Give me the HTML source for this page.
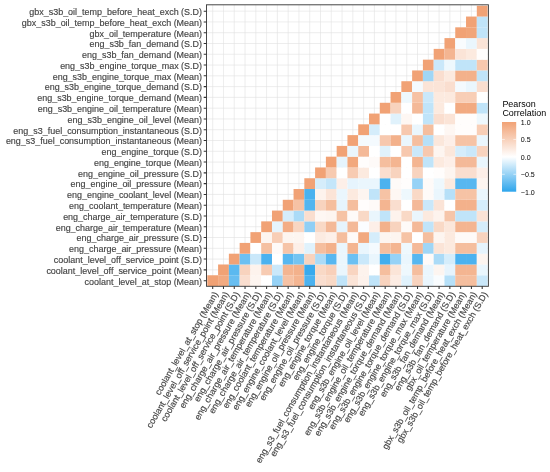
<!DOCTYPE html><html><head><meta charset="utf-8"><title>Pearson Correlation</title>
<style>html,body{margin:0;padding:0;background:#fff}svg{display:block}text{font-family:"Liberation Sans",sans-serif}</style></head><body>
<svg width="550" height="472" viewBox="0 0 550 472">
<rect width="550" height="472" fill="#fff"/>
<path d="M212.70 4.8V286.3M206.5 280.65H488.4M223.48 4.8V286.3M206.5 269.87H488.4M234.26 4.8V286.3M206.5 259.09H488.4M245.04 4.8V286.3M206.5 248.31H488.4M255.82 4.8V286.3M206.5 237.53H488.4M266.60 4.8V286.3M206.5 226.75H488.4M277.38 4.8V286.3M206.5 215.97H488.4M288.16 4.8V286.3M206.5 205.19H488.4M298.94 4.8V286.3M206.5 194.41H488.4M309.72 4.8V286.3M206.5 183.63H488.4M320.50 4.8V286.3M206.5 172.85H488.4M331.28 4.8V286.3M206.5 162.07H488.4M342.06 4.8V286.3M206.5 151.29H488.4M352.84 4.8V286.3M206.5 140.51H488.4M363.62 4.8V286.3M206.5 129.73H488.4M374.40 4.8V286.3M206.5 118.95H488.4M385.18 4.8V286.3M206.5 108.17H488.4M395.96 4.8V286.3M206.5 97.39H488.4M406.74 4.8V286.3M206.5 86.61H488.4M417.52 4.8V286.3M206.5 75.83H488.4M428.30 4.8V286.3M206.5 65.05H488.4M439.08 4.8V286.3M206.5 54.27H488.4M449.86 4.8V286.3M206.5 43.49H488.4M460.64 4.8V286.3M206.5 32.71H488.4M471.42 4.8V286.3M206.5 21.93H488.4M482.20 4.8V286.3M206.5 11.15H488.4" stroke="#e0e0e0" stroke-width="0.6" fill="none"/>
<g shape-rendering="auto">
<rect x="207.31" y="275.26" width="10.78" height="10.78" fill="#f1a275"/>
<rect x="218.09" y="275.26" width="10.78" height="10.78" fill="#f2aa81"/>
<rect x="228.87" y="275.26" width="10.78" height="10.78" fill="#68bef1"/>
<rect x="239.65" y="275.26" width="10.78" height="10.78" fill="#fadecf"/>
<rect x="250.43" y="275.26" width="10.78" height="10.78" fill="#fdf5f0"/>
<rect x="261.21" y="275.26" width="10.78" height="10.78" fill="#ffffff"/>
<rect x="271.99" y="275.26" width="10.78" height="10.78" fill="#96d2f6"/>
<rect x="282.77" y="275.26" width="10.78" height="10.78" fill="#f6c2a4"/>
<rect x="293.55" y="275.26" width="10.78" height="10.78" fill="#f4b591"/>
<rect x="304.33" y="275.26" width="10.78" height="10.78" fill="#4cb2ef"/>
<rect x="315.11" y="275.26" width="10.78" height="10.78" fill="#fadecf"/>
<rect x="325.89" y="275.26" width="10.78" height="10.78" fill="#f9d9c6"/>
<rect x="336.67" y="275.26" width="10.78" height="10.78" fill="#c0e4f9"/>
<rect x="347.45" y="275.26" width="10.78" height="10.78" fill="#fbe4d7"/>
<rect x="358.23" y="275.26" width="10.78" height="10.78" fill="#fdf2ec"/>
<rect x="369.01" y="275.26" width="10.78" height="10.78" fill="#c0e4f9"/>
<rect x="379.79" y="275.26" width="10.78" height="10.78" fill="#f8d3be"/>
<rect x="390.57" y="275.26" width="10.78" height="10.78" fill="#fcece3"/>
<rect x="401.35" y="275.26" width="10.78" height="10.78" fill="#e0f2fc"/>
<rect x="412.13" y="275.26" width="10.78" height="10.78" fill="#f8d3be"/>
<rect x="422.91" y="275.26" width="10.78" height="10.78" fill="#eaf6fd"/>
<rect x="433.69" y="275.26" width="10.78" height="10.78" fill="#f9fcfe"/>
<rect x="444.47" y="275.26" width="10.78" height="10.78" fill="#b6e0f8"/>
<rect x="455.25" y="275.26" width="10.78" height="10.78" fill="#f5be9e"/>
<rect x="466.03" y="275.26" width="10.78" height="10.78" fill="#f5be9e"/>
<rect x="476.81" y="275.26" width="10.78" height="10.78" fill="#cae8fa"/>
<rect x="218.09" y="264.48" width="10.78" height="10.78" fill="#f1a275"/>
<rect x="228.87" y="264.48" width="10.78" height="10.78" fill="#5bb9f0"/>
<rect x="239.65" y="264.48" width="10.78" height="10.78" fill="#f8d3be"/>
<rect x="250.43" y="264.48" width="10.78" height="10.78" fill="#fdf3ed"/>
<rect x="261.21" y="264.48" width="10.78" height="10.78" fill="#f7cbb2"/>
<rect x="271.99" y="264.48" width="10.78" height="10.78" fill="#cae8fa"/>
<rect x="282.77" y="264.48" width="10.78" height="10.78" fill="#f4b591"/>
<rect x="293.55" y="264.48" width="10.78" height="10.78" fill="#f3b18b"/>
<rect x="304.33" y="264.48" width="10.78" height="10.78" fill="#38aaed"/>
<rect x="315.11" y="264.48" width="10.78" height="10.78" fill="#f9d9c6"/>
<rect x="325.89" y="264.48" width="10.78" height="10.78" fill="#f8d0ba"/>
<rect x="336.67" y="264.48" width="10.78" height="10.78" fill="#eaf6fd"/>
<rect x="347.45" y="264.48" width="10.78" height="10.78" fill="#f9d5c1"/>
<rect x="358.23" y="264.48" width="10.78" height="10.78" fill="#fdf3ed"/>
<rect x="369.01" y="264.48" width="10.78" height="10.78" fill="#ffffff"/>
<rect x="379.79" y="264.48" width="10.78" height="10.78" fill="#f5be9e"/>
<rect x="390.57" y="264.48" width="10.78" height="10.78" fill="#fbe5d8"/>
<rect x="401.35" y="264.48" width="10.78" height="10.78" fill="#eef8fd"/>
<rect x="412.13" y="264.48" width="10.78" height="10.78" fill="#f5be9e"/>
<rect x="422.91" y="264.48" width="10.78" height="10.78" fill="#eaf6fd"/>
<rect x="433.69" y="264.48" width="10.78" height="10.78" fill="#fdf5f0"/>
<rect x="444.47" y="264.48" width="10.78" height="10.78" fill="#e6f4fd"/>
<rect x="455.25" y="264.48" width="10.78" height="10.78" fill="#f4b591"/>
<rect x="466.03" y="264.48" width="10.78" height="10.78" fill="#f4b591"/>
<rect x="476.81" y="264.48" width="10.78" height="10.78" fill="#eaf6fd"/>
<rect x="228.87" y="253.70" width="10.78" height="10.78" fill="#f1a275"/>
<rect x="239.65" y="253.70" width="10.78" height="10.78" fill="#6cc0f2"/>
<rect x="250.43" y="253.70" width="10.78" height="10.78" fill="#cae8fa"/>
<rect x="261.21" y="253.70" width="10.78" height="10.78" fill="#4cb2ef"/>
<rect x="271.99" y="253.70" width="10.78" height="10.78" fill="#ffffff"/>
<rect x="282.77" y="253.70" width="10.78" height="10.78" fill="#57b7f0"/>
<rect x="293.55" y="253.70" width="10.78" height="10.78" fill="#74c4f2"/>
<rect x="304.33" y="253.70" width="10.78" height="10.78" fill="#f8d3be"/>
<rect x="315.11" y="253.70" width="10.78" height="10.78" fill="#abdbf7"/>
<rect x="325.89" y="253.70" width="10.78" height="10.78" fill="#57b7f0"/>
<rect x="336.67" y="253.70" width="10.78" height="10.78" fill="#eaf6fd"/>
<rect x="347.45" y="253.70" width="10.78" height="10.78" fill="#6cc0f2"/>
<rect x="358.23" y="253.70" width="10.78" height="10.78" fill="#cae8fa"/>
<rect x="369.01" y="253.70" width="10.78" height="10.78" fill="#eaf6fd"/>
<rect x="379.79" y="253.70" width="10.78" height="10.78" fill="#42aeee"/>
<rect x="390.57" y="253.70" width="10.78" height="10.78" fill="#96d2f6"/>
<rect x="401.35" y="253.70" width="10.78" height="10.78" fill="#eaf6fd"/>
<rect x="412.13" y="253.70" width="10.78" height="10.78" fill="#57b7f0"/>
<rect x="422.91" y="253.70" width="10.78" height="10.78" fill="#fefaf8"/>
<rect x="433.69" y="253.70" width="10.78" height="10.78" fill="#abdbf7"/>
<rect x="444.47" y="253.70" width="10.78" height="10.78" fill="#d5edfb"/>
<rect x="455.25" y="253.70" width="10.78" height="10.78" fill="#4cb2ef"/>
<rect x="466.03" y="253.70" width="10.78" height="10.78" fill="#4cb2ef"/>
<rect x="476.81" y="253.70" width="10.78" height="10.78" fill="#fdf5f0"/>
<rect x="239.65" y="242.92" width="10.78" height="10.78" fill="#f1a275"/>
<rect x="250.43" y="242.92" width="10.78" height="10.78" fill="#ffffff"/>
<rect x="261.21" y="242.92" width="10.78" height="10.78" fill="#f5c0a1"/>
<rect x="271.99" y="242.92" width="10.78" height="10.78" fill="#fefaf8"/>
<rect x="282.77" y="242.92" width="10.78" height="10.78" fill="#f6c4a8"/>
<rect x="293.55" y="242.92" width="10.78" height="10.78" fill="#fdefe8"/>
<rect x="304.33" y="242.92" width="10.78" height="10.78" fill="#e0f2fc"/>
<rect x="315.11" y="242.92" width="10.78" height="10.78" fill="#f5be9e"/>
<rect x="325.89" y="242.92" width="10.78" height="10.78" fill="#f3b18b"/>
<rect x="336.67" y="242.92" width="10.78" height="10.78" fill="#eaf6fd"/>
<rect x="347.45" y="242.92" width="10.78" height="10.78" fill="#f4b591"/>
<rect x="358.23" y="242.92" width="10.78" height="10.78" fill="#eaf6fd"/>
<rect x="369.01" y="242.92" width="10.78" height="10.78" fill="#f4fafe"/>
<rect x="379.79" y="242.92" width="10.78" height="10.78" fill="#f5be9e"/>
<rect x="390.57" y="242.92" width="10.78" height="10.78" fill="#f4b591"/>
<rect x="401.35" y="242.92" width="10.78" height="10.78" fill="#eef8fd"/>
<rect x="412.13" y="242.92" width="10.78" height="10.78" fill="#f4b998"/>
<rect x="422.91" y="242.92" width="10.78" height="10.78" fill="#a0d6f6"/>
<rect x="433.69" y="242.92" width="10.78" height="10.78" fill="#fbe4d7"/>
<rect x="444.47" y="242.92" width="10.78" height="10.78" fill="#fceadf"/>
<rect x="455.25" y="242.92" width="10.78" height="10.78" fill="#f5be9e"/>
<rect x="466.03" y="242.92" width="10.78" height="10.78" fill="#f5be9e"/>
<rect x="476.81" y="242.92" width="10.78" height="10.78" fill="#e6f4fd"/>
<rect x="250.43" y="232.14" width="10.78" height="10.78" fill="#f1a275"/>
<rect x="261.21" y="232.14" width="10.78" height="10.78" fill="#fdf5f0"/>
<rect x="271.99" y="232.14" width="10.78" height="10.78" fill="#f8ceb6"/>
<rect x="282.77" y="232.14" width="10.78" height="10.78" fill="#fdf5f0"/>
<rect x="293.55" y="232.14" width="10.78" height="10.78" fill="#fdf5f0"/>
<rect x="304.33" y="232.14" width="10.78" height="10.78" fill="#ffffff"/>
<rect x="315.11" y="232.14" width="10.78" height="10.78" fill="#fcebe1"/>
<rect x="325.89" y="232.14" width="10.78" height="10.78" fill="#fdf0e9"/>
<rect x="336.67" y="232.14" width="10.78" height="10.78" fill="#f5be9e"/>
<rect x="347.45" y="232.14" width="10.78" height="10.78" fill="#fefaf8"/>
<rect x="358.23" y="232.14" width="10.78" height="10.78" fill="#f2a97f"/>
<rect x="369.01" y="232.14" width="10.78" height="10.78" fill="#d5edfb"/>
<rect x="379.79" y="232.14" width="10.78" height="10.78" fill="#fdf5f0"/>
<rect x="390.57" y="232.14" width="10.78" height="10.78" fill="#fdf5f0"/>
<rect x="401.35" y="232.14" width="10.78" height="10.78" fill="#f6c3a5"/>
<rect x="412.13" y="232.14" width="10.78" height="10.78" fill="#ffffff"/>
<rect x="422.91" y="232.14" width="10.78" height="10.78" fill="#f5be9e"/>
<rect x="433.69" y="232.14" width="10.78" height="10.78" fill="#fdf5f0"/>
<rect x="444.47" y="232.14" width="10.78" height="10.78" fill="#fceadf"/>
<rect x="455.25" y="232.14" width="10.78" height="10.78" fill="#fefaf8"/>
<rect x="466.03" y="232.14" width="10.78" height="10.78" fill="#fefaf8"/>
<rect x="476.81" y="232.14" width="10.78" height="10.78" fill="#f8d3be"/>
<rect x="261.21" y="221.36" width="10.78" height="10.78" fill="#f1a275"/>
<rect x="271.99" y="221.36" width="10.78" height="10.78" fill="#e6f4fd"/>
<rect x="282.77" y="221.36" width="10.78" height="10.78" fill="#f3ad86"/>
<rect x="293.55" y="221.36" width="10.78" height="10.78" fill="#f9d6c2"/>
<rect x="304.33" y="221.36" width="10.78" height="10.78" fill="#90cff5"/>
<rect x="315.11" y="221.36" width="10.78" height="10.78" fill="#f9d9c6"/>
<rect x="325.89" y="221.36" width="10.78" height="10.78" fill="#f4b998"/>
<rect x="336.67" y="221.36" width="10.78" height="10.78" fill="#e6f4fd"/>
<rect x="347.45" y="221.36" width="10.78" height="10.78" fill="#f4b998"/>
<rect x="358.23" y="221.36" width="10.78" height="10.78" fill="#fbfdff"/>
<rect x="369.01" y="221.36" width="10.78" height="10.78" fill="#fdefe8"/>
<rect x="379.79" y="221.36" width="10.78" height="10.78" fill="#f3b18b"/>
<rect x="390.57" y="221.36" width="10.78" height="10.78" fill="#f8d3be"/>
<rect x="401.35" y="221.36" width="10.78" height="10.78" fill="#fefaf8"/>
<rect x="412.13" y="221.36" width="10.78" height="10.78" fill="#f4b998"/>
<rect x="422.91" y="221.36" width="10.78" height="10.78" fill="#c0e4f9"/>
<rect x="433.69" y="221.36" width="10.78" height="10.78" fill="#f9d9c6"/>
<rect x="444.47" y="221.36" width="10.78" height="10.78" fill="#fbe7db"/>
<rect x="455.25" y="221.36" width="10.78" height="10.78" fill="#f4b591"/>
<rect x="466.03" y="221.36" width="10.78" height="10.78" fill="#f4b591"/>
<rect x="476.81" y="221.36" width="10.78" height="10.78" fill="#d5edfb"/>
<rect x="271.99" y="210.58" width="10.78" height="10.78" fill="#f1a275"/>
<rect x="282.77" y="210.58" width="10.78" height="10.78" fill="#d5edfb"/>
<rect x="293.55" y="210.58" width="10.78" height="10.78" fill="#abdbf7"/>
<rect x="304.33" y="210.58" width="10.78" height="10.78" fill="#fadecf"/>
<rect x="315.11" y="210.58" width="10.78" height="10.78" fill="#fef7f3"/>
<rect x="325.89" y="210.58" width="10.78" height="10.78" fill="#fdf5f0"/>
<rect x="336.67" y="210.58" width="10.78" height="10.78" fill="#f6c3a5"/>
<rect x="347.45" y="210.58" width="10.78" height="10.78" fill="#fefaf8"/>
<rect x="358.23" y="210.58" width="10.78" height="10.78" fill="#f9d9c6"/>
<rect x="369.01" y="210.58" width="10.78" height="10.78" fill="#eaf6fd"/>
<rect x="379.79" y="210.58" width="10.78" height="10.78" fill="#c0e4f9"/>
<rect x="390.57" y="210.58" width="10.78" height="10.78" fill="#fdf3ed"/>
<rect x="401.35" y="210.58" width="10.78" height="10.78" fill="#f9d9c6"/>
<rect x="412.13" y="210.58" width="10.78" height="10.78" fill="#eaf6fd"/>
<rect x="422.91" y="210.58" width="10.78" height="10.78" fill="#fceadf"/>
<rect x="433.69" y="210.58" width="10.78" height="10.78" fill="#fdf3ed"/>
<rect x="444.47" y="210.58" width="10.78" height="10.78" fill="#f6c5a9"/>
<rect x="455.25" y="210.58" width="10.78" height="10.78" fill="#c0e4f9"/>
<rect x="466.03" y="210.58" width="10.78" height="10.78" fill="#c0e4f9"/>
<rect x="476.81" y="210.58" width="10.78" height="10.78" fill="#fbe3d6"/>
<rect x="282.77" y="199.80" width="10.78" height="10.78" fill="#f1a275"/>
<rect x="293.55" y="199.80" width="10.78" height="10.78" fill="#f6c2a4"/>
<rect x="304.33" y="199.80" width="10.78" height="10.78" fill="#53b5ef"/>
<rect x="315.11" y="199.80" width="10.78" height="10.78" fill="#f8d3be"/>
<rect x="325.89" y="199.80" width="10.78" height="10.78" fill="#f5be9e"/>
<rect x="336.67" y="199.80" width="10.78" height="10.78" fill="#e6f4fd"/>
<rect x="347.45" y="199.80" width="10.78" height="10.78" fill="#f5be9e"/>
<rect x="358.23" y="199.80" width="10.78" height="10.78" fill="#fffdfc"/>
<rect x="369.01" y="199.80" width="10.78" height="10.78" fill="#fefaf8"/>
<rect x="379.79" y="199.80" width="10.78" height="10.78" fill="#f4b591"/>
<rect x="390.57" y="199.80" width="10.78" height="10.78" fill="#fadecf"/>
<rect x="401.35" y="199.80" width="10.78" height="10.78" fill="#ffffff"/>
<rect x="412.13" y="199.80" width="10.78" height="10.78" fill="#f4b998"/>
<rect x="422.91" y="199.80" width="10.78" height="10.78" fill="#cae8fa"/>
<rect x="433.69" y="199.80" width="10.78" height="10.78" fill="#fbe4d7"/>
<rect x="444.47" y="199.80" width="10.78" height="10.78" fill="#ffffff"/>
<rect x="455.25" y="199.80" width="10.78" height="10.78" fill="#f3b18b"/>
<rect x="466.03" y="199.80" width="10.78" height="10.78" fill="#f3b18b"/>
<rect x="476.81" y="199.80" width="10.78" height="10.78" fill="#d5edfb"/>
<rect x="293.55" y="189.02" width="10.78" height="10.78" fill="#f1a275"/>
<rect x="304.33" y="189.02" width="10.78" height="10.78" fill="#4ab2ef"/>
<rect x="315.11" y="189.02" width="10.78" height="10.78" fill="#fdf3ed"/>
<rect x="325.89" y="189.02" width="10.78" height="10.78" fill="#fbe4d7"/>
<rect x="336.67" y="189.02" width="10.78" height="10.78" fill="#eaf6fd"/>
<rect x="347.45" y="189.02" width="10.78" height="10.78" fill="#fceadf"/>
<rect x="358.23" y="189.02" width="10.78" height="10.78" fill="#fdf5f0"/>
<rect x="369.01" y="189.02" width="10.78" height="10.78" fill="#c0e4f9"/>
<rect x="379.79" y="189.02" width="10.78" height="10.78" fill="#f6c3a5"/>
<rect x="390.57" y="189.02" width="10.78" height="10.78" fill="#fef7f3"/>
<rect x="401.35" y="189.02" width="10.78" height="10.78" fill="#eef8fd"/>
<rect x="412.13" y="189.02" width="10.78" height="10.78" fill="#f9d9c6"/>
<rect x="422.91" y="189.02" width="10.78" height="10.78" fill="#fefaf8"/>
<rect x="433.69" y="189.02" width="10.78" height="10.78" fill="#eaf6fd"/>
<rect x="444.47" y="189.02" width="10.78" height="10.78" fill="#b6e0f8"/>
<rect x="455.25" y="189.02" width="10.78" height="10.78" fill="#f6c3a5"/>
<rect x="466.03" y="189.02" width="10.78" height="10.78" fill="#f6c3a5"/>
<rect x="476.81" y="189.02" width="10.78" height="10.78" fill="#eaf6fd"/>
<rect x="304.33" y="178.24" width="10.78" height="10.78" fill="#f1a275"/>
<rect x="315.11" y="178.24" width="10.78" height="10.78" fill="#d5edfb"/>
<rect x="325.89" y="178.24" width="10.78" height="10.78" fill="#c4e6fa"/>
<rect x="336.67" y="178.24" width="10.78" height="10.78" fill="#fdefe8"/>
<rect x="347.45" y="178.24" width="10.78" height="10.78" fill="#e6f4fd"/>
<rect x="358.23" y="178.24" width="10.78" height="10.78" fill="#eaf6fd"/>
<rect x="369.01" y="178.24" width="10.78" height="10.78" fill="#eaf6fd"/>
<rect x="379.79" y="178.24" width="10.78" height="10.78" fill="#4cb2ef"/>
<rect x="390.57" y="178.24" width="10.78" height="10.78" fill="#fefaf8"/>
<rect x="401.35" y="178.24" width="10.78" height="10.78" fill="#fffdfc"/>
<rect x="412.13" y="178.24" width="10.78" height="10.78" fill="#96d2f6"/>
<rect x="422.91" y="178.24" width="10.78" height="10.78" fill="#fefaf8"/>
<rect x="433.69" y="178.24" width="10.78" height="10.78" fill="#eef8fd"/>
<rect x="444.47" y="178.24" width="10.78" height="10.78" fill="#fceadf"/>
<rect x="455.25" y="178.24" width="10.78" height="10.78" fill="#57b7f0"/>
<rect x="466.03" y="178.24" width="10.78" height="10.78" fill="#57b7f0"/>
<rect x="476.81" y="178.24" width="10.78" height="10.78" fill="#fdf5f0"/>
<rect x="315.11" y="167.46" width="10.78" height="10.78" fill="#f1a275"/>
<rect x="325.89" y="167.46" width="10.78" height="10.78" fill="#f7cab0"/>
<rect x="336.67" y="167.46" width="10.78" height="10.78" fill="#ffffff"/>
<rect x="347.45" y="167.46" width="10.78" height="10.78" fill="#f7cbb2"/>
<rect x="358.23" y="167.46" width="10.78" height="10.78" fill="#fceadf"/>
<rect x="369.01" y="167.46" width="10.78" height="10.78" fill="#ffffff"/>
<rect x="379.79" y="167.46" width="10.78" height="10.78" fill="#fadecf"/>
<rect x="390.57" y="167.46" width="10.78" height="10.78" fill="#f8d3be"/>
<rect x="401.35" y="167.46" width="10.78" height="10.78" fill="#ffffff"/>
<rect x="412.13" y="167.46" width="10.78" height="10.78" fill="#f8d3be"/>
<rect x="422.91" y="167.46" width="10.78" height="10.78" fill="#ffffff"/>
<rect x="433.69" y="167.46" width="10.78" height="10.78" fill="#fffdfc"/>
<rect x="444.47" y="167.46" width="10.78" height="10.78" fill="#fdf5f0"/>
<rect x="455.25" y="167.46" width="10.78" height="10.78" fill="#fadecf"/>
<rect x="466.03" y="167.46" width="10.78" height="10.78" fill="#fadecf"/>
<rect x="476.81" y="167.46" width="10.78" height="10.78" fill="#fdefe8"/>
<rect x="325.89" y="156.68" width="10.78" height="10.78" fill="#f1a275"/>
<rect x="336.67" y="156.68" width="10.78" height="10.78" fill="#e6f4fd"/>
<rect x="347.45" y="156.68" width="10.78" height="10.78" fill="#f2a87d"/>
<rect x="358.23" y="156.68" width="10.78" height="10.78" fill="#fffdfc"/>
<rect x="369.01" y="156.68" width="10.78" height="10.78" fill="#fefaf8"/>
<rect x="379.79" y="156.68" width="10.78" height="10.78" fill="#f5be9e"/>
<rect x="390.57" y="156.68" width="10.78" height="10.78" fill="#f4b591"/>
<rect x="401.35" y="156.68" width="10.78" height="10.78" fill="#ffffff"/>
<rect x="412.13" y="156.68" width="10.78" height="10.78" fill="#f4b591"/>
<rect x="422.91" y="156.68" width="10.78" height="10.78" fill="#c0e4f9"/>
<rect x="433.69" y="156.68" width="10.78" height="10.78" fill="#fceadf"/>
<rect x="444.47" y="156.68" width="10.78" height="10.78" fill="#fdefe8"/>
<rect x="455.25" y="156.68" width="10.78" height="10.78" fill="#f4b998"/>
<rect x="466.03" y="156.68" width="10.78" height="10.78" fill="#f4b998"/>
<rect x="476.81" y="156.68" width="10.78" height="10.78" fill="#eaf6fd"/>
<rect x="336.67" y="145.90" width="10.78" height="10.78" fill="#f1a275"/>
<rect x="347.45" y="145.90" width="10.78" height="10.78" fill="#eaf6fd"/>
<rect x="358.23" y="145.90" width="10.78" height="10.78" fill="#f4b998"/>
<rect x="369.01" y="145.90" width="10.78" height="10.78" fill="#ffffff"/>
<rect x="379.79" y="145.90" width="10.78" height="10.78" fill="#e0f2fc"/>
<rect x="390.57" y="145.90" width="10.78" height="10.78" fill="#ffffff"/>
<rect x="401.35" y="145.90" width="10.78" height="10.78" fill="#f7c8ae"/>
<rect x="412.13" y="145.90" width="10.78" height="10.78" fill="#cae8fa"/>
<rect x="422.91" y="145.90" width="10.78" height="10.78" fill="#f7c8ae"/>
<rect x="433.69" y="145.90" width="10.78" height="10.78" fill="#fdf5f0"/>
<rect x="444.47" y="145.90" width="10.78" height="10.78" fill="#fbe7db"/>
<rect x="455.25" y="145.90" width="10.78" height="10.78" fill="#d5edfb"/>
<rect x="466.03" y="145.90" width="10.78" height="10.78" fill="#cae8fa"/>
<rect x="476.81" y="145.90" width="10.78" height="10.78" fill="#f8d3be"/>
<rect x="347.45" y="135.12" width="10.78" height="10.78" fill="#f1a275"/>
<rect x="358.23" y="135.12" width="10.78" height="10.78" fill="#f4fafe"/>
<rect x="369.01" y="135.12" width="10.78" height="10.78" fill="#f4fafe"/>
<rect x="379.79" y="135.12" width="10.78" height="10.78" fill="#f7c8ae"/>
<rect x="390.57" y="135.12" width="10.78" height="10.78" fill="#f3b18b"/>
<rect x="401.35" y="135.12" width="10.78" height="10.78" fill="#eaf6fd"/>
<rect x="412.13" y="135.12" width="10.78" height="10.78" fill="#f5be9e"/>
<rect x="422.91" y="135.12" width="10.78" height="10.78" fill="#b6e0f8"/>
<rect x="433.69" y="135.12" width="10.78" height="10.78" fill="#fbe7db"/>
<rect x="444.47" y="135.12" width="10.78" height="10.78" fill="#fdefe8"/>
<rect x="455.25" y="135.12" width="10.78" height="10.78" fill="#f6c3a5"/>
<rect x="466.03" y="135.12" width="10.78" height="10.78" fill="#f6c3a5"/>
<rect x="476.81" y="135.12" width="10.78" height="10.78" fill="#eaf6fd"/>
<rect x="358.23" y="124.34" width="10.78" height="10.78" fill="#f1a275"/>
<rect x="369.01" y="124.34" width="10.78" height="10.78" fill="#d5edfb"/>
<rect x="379.79" y="124.34" width="10.78" height="10.78" fill="#ffffff"/>
<rect x="390.57" y="124.34" width="10.78" height="10.78" fill="#ffffff"/>
<rect x="401.35" y="124.34" width="10.78" height="10.78" fill="#f7c8ae"/>
<rect x="412.13" y="124.34" width="10.78" height="10.78" fill="#eaf6fd"/>
<rect x="422.91" y="124.34" width="10.78" height="10.78" fill="#f5be9e"/>
<rect x="433.69" y="124.34" width="10.78" height="10.78" fill="#ffffff"/>
<rect x="444.47" y="124.34" width="10.78" height="10.78" fill="#fef7f3"/>
<rect x="455.25" y="124.34" width="10.78" height="10.78" fill="#fffdfc"/>
<rect x="466.03" y="124.34" width="10.78" height="10.78" fill="#fffdfc"/>
<rect x="476.81" y="124.34" width="10.78" height="10.78" fill="#f8ceb6"/>
<rect x="369.01" y="113.56" width="10.78" height="10.78" fill="#f1a275"/>
<rect x="379.79" y="113.56" width="10.78" height="10.78" fill="#ffffff"/>
<rect x="390.57" y="113.56" width="10.78" height="10.78" fill="#e0f2fc"/>
<rect x="401.35" y="113.56" width="10.78" height="10.78" fill="#fef7f3"/>
<rect x="412.13" y="113.56" width="10.78" height="10.78" fill="#ffffff"/>
<rect x="422.91" y="113.56" width="10.78" height="10.78" fill="#c0e4f9"/>
<rect x="433.69" y="113.56" width="10.78" height="10.78" fill="#fadecf"/>
<rect x="444.47" y="113.56" width="10.78" height="10.78" fill="#fbe4d7"/>
<rect x="455.25" y="113.56" width="10.78" height="10.78" fill="#fffdfc"/>
<rect x="466.03" y="113.56" width="10.78" height="10.78" fill="#fffdfc"/>
<rect x="476.81" y="113.56" width="10.78" height="10.78" fill="#eef8fd"/>
<rect x="379.79" y="102.78" width="10.78" height="10.78" fill="#f1a275"/>
<rect x="390.57" y="102.78" width="10.78" height="10.78" fill="#f8d3be"/>
<rect x="401.35" y="102.78" width="10.78" height="10.78" fill="#ffffff"/>
<rect x="412.13" y="102.78" width="10.78" height="10.78" fill="#f4b998"/>
<rect x="422.91" y="102.78" width="10.78" height="10.78" fill="#c0e4f9"/>
<rect x="433.69" y="102.78" width="10.78" height="10.78" fill="#fceadf"/>
<rect x="444.47" y="102.78" width="10.78" height="10.78" fill="#ffffff"/>
<rect x="455.25" y="102.78" width="10.78" height="10.78" fill="#f2aa81"/>
<rect x="466.03" y="102.78" width="10.78" height="10.78" fill="#f2aa81"/>
<rect x="476.81" y="102.78" width="10.78" height="10.78" fill="#c0e4f9"/>
<rect x="390.57" y="92.00" width="10.78" height="10.78" fill="#f1a275"/>
<rect x="401.35" y="92.00" width="10.78" height="10.78" fill="#eef8fd"/>
<rect x="412.13" y="92.00" width="10.78" height="10.78" fill="#f6c1a3"/>
<rect x="422.91" y="92.00" width="10.78" height="10.78" fill="#cae8fa"/>
<rect x="433.69" y="92.00" width="10.78" height="10.78" fill="#fceadf"/>
<rect x="444.47" y="92.00" width="10.78" height="10.78" fill="#fceadf"/>
<rect x="455.25" y="92.00" width="10.78" height="10.78" fill="#f8ceb6"/>
<rect x="466.03" y="92.00" width="10.78" height="10.78" fill="#f8ceb6"/>
<rect x="476.81" y="92.00" width="10.78" height="10.78" fill="#ffffff"/>
<rect x="401.35" y="81.22" width="10.78" height="10.78" fill="#f1a275"/>
<rect x="412.13" y="81.22" width="10.78" height="10.78" fill="#f4fafe"/>
<rect x="422.91" y="81.22" width="10.78" height="10.78" fill="#fbe4d7"/>
<rect x="433.69" y="81.22" width="10.78" height="10.78" fill="#fbe4d7"/>
<rect x="444.47" y="81.22" width="10.78" height="10.78" fill="#fadecf"/>
<rect x="455.25" y="81.22" width="10.78" height="10.78" fill="#f4fafe"/>
<rect x="466.03" y="81.22" width="10.78" height="10.78" fill="#eaf6fd"/>
<rect x="476.81" y="81.22" width="10.78" height="10.78" fill="#fadecf"/>
<rect x="412.13" y="70.44" width="10.78" height="10.78" fill="#f1a275"/>
<rect x="422.91" y="70.44" width="10.78" height="10.78" fill="#a0d6f6"/>
<rect x="433.69" y="70.44" width="10.78" height="10.78" fill="#fadecf"/>
<rect x="444.47" y="70.44" width="10.78" height="10.78" fill="#fceadf"/>
<rect x="455.25" y="70.44" width="10.78" height="10.78" fill="#f3b18b"/>
<rect x="466.03" y="70.44" width="10.78" height="10.78" fill="#f3b18b"/>
<rect x="476.81" y="70.44" width="10.78" height="10.78" fill="#c0e4f9"/>
<rect x="422.91" y="59.66" width="10.78" height="10.78" fill="#f1a275"/>
<rect x="433.69" y="59.66" width="10.78" height="10.78" fill="#cae8fa"/>
<rect x="444.47" y="59.66" width="10.78" height="10.78" fill="#eef8fd"/>
<rect x="455.25" y="59.66" width="10.78" height="10.78" fill="#c0e4f9"/>
<rect x="466.03" y="59.66" width="10.78" height="10.78" fill="#c0e4f9"/>
<rect x="476.81" y="59.66" width="10.78" height="10.78" fill="#f7c8ae"/>
<rect x="433.69" y="48.88" width="10.78" height="10.78" fill="#f1a275"/>
<rect x="444.47" y="48.88" width="10.78" height="10.78" fill="#f4b591"/>
<rect x="455.25" y="48.88" width="10.78" height="10.78" fill="#fbe4d7"/>
<rect x="466.03" y="48.88" width="10.78" height="10.78" fill="#fceadf"/>
<rect x="476.81" y="48.88" width="10.78" height="10.78" fill="#fffdfc"/>
<rect x="444.47" y="38.10" width="10.78" height="10.78" fill="#f1a275"/>
<rect x="455.25" y="38.10" width="10.78" height="10.78" fill="#f9fcfe"/>
<rect x="466.03" y="38.10" width="10.78" height="10.78" fill="#eaf6fd"/>
<rect x="476.81" y="38.10" width="10.78" height="10.78" fill="#fbe4d7"/>
<rect x="455.25" y="27.32" width="10.78" height="10.78" fill="#f1a275"/>
<rect x="466.03" y="27.32" width="10.78" height="10.78" fill="#f1a579"/>
<rect x="476.81" y="27.32" width="10.78" height="10.78" fill="#c0e4f9"/>
<rect x="466.03" y="16.54" width="10.78" height="10.78" fill="#f1a275"/>
<rect x="476.81" y="16.54" width="10.78" height="10.78" fill="#c0e4f9"/>
<rect x="476.81" y="5.76" width="10.78" height="10.78" fill="#f1a275"/>
</g>
<rect x="206.5" y="4.8" width="281.90" height="281.50" fill="none" stroke="#3d3d3d" stroke-width="0.95"/>
<path d="M212.70 286.3v2.8M206.5 280.65h-2.8M223.48 286.3v2.8M206.5 269.87h-2.8M234.26 286.3v2.8M206.5 259.09h-2.8M245.04 286.3v2.8M206.5 248.31h-2.8M255.82 286.3v2.8M206.5 237.53h-2.8M266.60 286.3v2.8M206.5 226.75h-2.8M277.38 286.3v2.8M206.5 215.97h-2.8M288.16 286.3v2.8M206.5 205.19h-2.8M298.94 286.3v2.8M206.5 194.41h-2.8M309.72 286.3v2.8M206.5 183.63h-2.8M320.50 286.3v2.8M206.5 172.85h-2.8M331.28 286.3v2.8M206.5 162.07h-2.8M342.06 286.3v2.8M206.5 151.29h-2.8M352.84 286.3v2.8M206.5 140.51h-2.8M363.62 286.3v2.8M206.5 129.73h-2.8M374.40 286.3v2.8M206.5 118.95h-2.8M385.18 286.3v2.8M206.5 108.17h-2.8M395.96 286.3v2.8M206.5 97.39h-2.8M406.74 286.3v2.8M206.5 86.61h-2.8M417.52 286.3v2.8M206.5 75.83h-2.8M428.30 286.3v2.8M206.5 65.05h-2.8M439.08 286.3v2.8M206.5 54.27h-2.8M449.86 286.3v2.8M206.5 43.49h-2.8M460.64 286.3v2.8M206.5 32.71h-2.8M471.42 286.3v2.8M206.5 21.93h-2.8M482.20 286.3v2.8M206.5 11.15h-2.8" stroke="#333" stroke-width="1.05" fill="none"/>
<g font-size="8.96" fill="#444" stroke="#444" stroke-width="0.15">
<text x="202" y="284.50" text-anchor="end">coolant_level_at_stop (Mean)</text>
<text x="202" y="273.72" text-anchor="end">coolant_level_off_service_point (Mean)</text>
<text x="202" y="262.94" text-anchor="end">coolant_level_off_service_point (S.D)</text>
<text x="202" y="252.16" text-anchor="end">eng_charge_air_pressure (Mean)</text>
<text x="202" y="241.38" text-anchor="end">eng_charge_air_pressure (S.D)</text>
<text x="202" y="230.60" text-anchor="end">eng_charge_air_temperature (Mean)</text>
<text x="202" y="219.82" text-anchor="end">eng_charge_air_temperature (S.D)</text>
<text x="202" y="209.04" text-anchor="end">eng_coolant_temperature (Mean)</text>
<text x="202" y="198.26" text-anchor="end">eng_engine_coolant_level (Mean)</text>
<text x="202" y="187.48" text-anchor="end">eng_engine_oil_pressure (Mean)</text>
<text x="202" y="176.70" text-anchor="end">eng_engine_oil_pressure (S.D)</text>
<text x="202" y="165.92" text-anchor="end">eng_engine_torque (Mean)</text>
<text x="202" y="155.14" text-anchor="end">eng_engine_torque (S.D)</text>
<text x="202" y="144.36" text-anchor="end">eng_s3_fuel_consumption_instantaneous (Mean)</text>
<text x="202" y="133.58" text-anchor="end">eng_s3_fuel_consumption_instantaneous (S.D)</text>
<text x="202" y="122.80" text-anchor="end">eng_s3b_engine_oil_level (Mean)</text>
<text x="202" y="112.02" text-anchor="end">eng_s3b_engine_oil_temperature (Mean)</text>
<text x="202" y="101.24" text-anchor="end">eng_s3b_engine_torque_demand (Mean)</text>
<text x="202" y="90.46" text-anchor="end">eng_s3b_engine_torque_demand (S.D)</text>
<text x="202" y="79.68" text-anchor="end">eng_s3b_engine_torque_max (Mean)</text>
<text x="202" y="68.90" text-anchor="end">eng_s3b_engine_torque_max (S.D)</text>
<text x="202" y="58.12" text-anchor="end">eng_s3b_fan_demand (Mean)</text>
<text x="202" y="47.34" text-anchor="end">eng_s3b_fan_demand (S.D)</text>
<text x="202" y="36.56" text-anchor="end">gbx_oil_temperature (Mean)</text>
<text x="202" y="25.78" text-anchor="end">gbx_s3b_oil_temp_before_heat_exch (Mean)</text>
<text x="202" y="15.00" text-anchor="end">gbx_s3b_oil_temp_before_heat_exch (S.D)</text>
<text transform="translate(215.70 292.40) rotate(-60)" text-anchor="end" y="3.1">coolant_level_at_stop (Mean)</text>
<text transform="translate(226.48 292.40) rotate(-60)" text-anchor="end" y="3.1">coolant_level_off_service_point (Mean)</text>
<text transform="translate(237.26 292.40) rotate(-60)" text-anchor="end" y="3.1">coolant_level_off_service_point (S.D)</text>
<text transform="translate(248.04 292.40) rotate(-60)" text-anchor="end" y="3.1">eng_charge_air_pressure (Mean)</text>
<text transform="translate(258.82 292.40) rotate(-60)" text-anchor="end" y="3.1">eng_charge_air_pressure (S.D)</text>
<text transform="translate(269.60 292.40) rotate(-60)" text-anchor="end" y="3.1">eng_charge_air_temperature (Mean)</text>
<text transform="translate(280.38 292.40) rotate(-60)" text-anchor="end" y="3.1">eng_charge_air_temperature (S.D)</text>
<text transform="translate(291.16 292.40) rotate(-60)" text-anchor="end" y="3.1">eng_coolant_temperature (Mean)</text>
<text transform="translate(301.94 292.40) rotate(-60)" text-anchor="end" y="3.1">eng_engine_coolant_level (Mean)</text>
<text transform="translate(312.72 292.40) rotate(-60)" text-anchor="end" y="3.1">eng_engine_oil_pressure (Mean)</text>
<text transform="translate(323.50 292.40) rotate(-60)" text-anchor="end" y="3.1">eng_engine_oil_pressure (S.D)</text>
<text transform="translate(334.28 292.40) rotate(-60)" text-anchor="end" y="3.1">eng_engine_torque (Mean)</text>
<text transform="translate(345.06 292.40) rotate(-60)" text-anchor="end" y="3.1">eng_engine_torque (S.D)</text>
<text transform="translate(355.84 292.40) rotate(-60)" text-anchor="end" y="3.1">eng_s3_fuel_consumption_instantaneous (Mean)</text>
<text transform="translate(366.62 292.40) rotate(-60)" text-anchor="end" y="3.1">eng_s3_fuel_consumption_instantaneous (S.D)</text>
<text transform="translate(377.40 292.40) rotate(-60)" text-anchor="end" y="3.1">eng_s3b_engine_oil_level (Mean)</text>
<text transform="translate(388.18 292.40) rotate(-60)" text-anchor="end" y="3.1">eng_s3b_engine_oil_temperature (Mean)</text>
<text transform="translate(398.96 292.40) rotate(-60)" text-anchor="end" y="3.1">eng_s3b_engine_torque_demand (Mean)</text>
<text transform="translate(409.74 292.40) rotate(-60)" text-anchor="end" y="3.1">eng_s3b_engine_torque_demand (S.D)</text>
<text transform="translate(420.52 292.40) rotate(-60)" text-anchor="end" y="3.1">eng_s3b_engine_torque_max (Mean)</text>
<text transform="translate(431.30 292.40) rotate(-60)" text-anchor="end" y="3.1">eng_s3b_engine_torque_max (S.D)</text>
<text transform="translate(442.08 292.40) rotate(-60)" text-anchor="end" y="3.1">eng_s3b_fan_demand (Mean)</text>
<text transform="translate(452.86 292.40) rotate(-60)" text-anchor="end" y="3.1">eng_s3b_fan_demand (S.D)</text>
<text transform="translate(463.64 292.40) rotate(-60)" text-anchor="end" y="3.1">gbx_oil_temperature (Mean)</text>
<text transform="translate(474.42 292.40) rotate(-60)" text-anchor="end" y="3.1">gbx_s3b_oil_temp_before_heat_exch (Mean)</text>
<text transform="translate(485.20 292.40) rotate(-60)" text-anchor="end" y="3.1">gbx_s3b_oil_temp_before_heat_exch (S.D)</text>
</g>
<defs><linearGradient id="lg" x1="0" y1="0" x2="0" y2="1">
<stop offset="0" stop-color="#f1a275"/><stop offset="0.5" stop-color="#fff"/><stop offset="1" stop-color="#2da5ec"/></linearGradient></defs>
<rect x="502.0" y="122.0" width="14.20" height="69.70" fill="url(#lg)"/>
<path d="M502.0 139.43h2.8M516.2 139.43h-2.8M502.0 156.85h2.8M516.2 156.85h-2.8M502.0 174.27h2.8M516.2 174.27h-2.8" stroke="#fff" stroke-width="0.6" fill="none"/>
<g font-size="8.95" fill="#000"><text x="502.4" y="106.7">Pearson</text><text x="502.4" y="116.4">Correlation</text></g>
<g font-size="7.1" fill="#000">
<text x="520.8" y="124.90">1.0</text>
<text x="520.8" y="142.33">0.5</text>
<text x="520.8" y="159.75">0.0</text>
<text x="520.8" y="177.17">−0.5</text>
<text x="520.8" y="194.60">−1.0</text>
</g>
</svg></body></html>
